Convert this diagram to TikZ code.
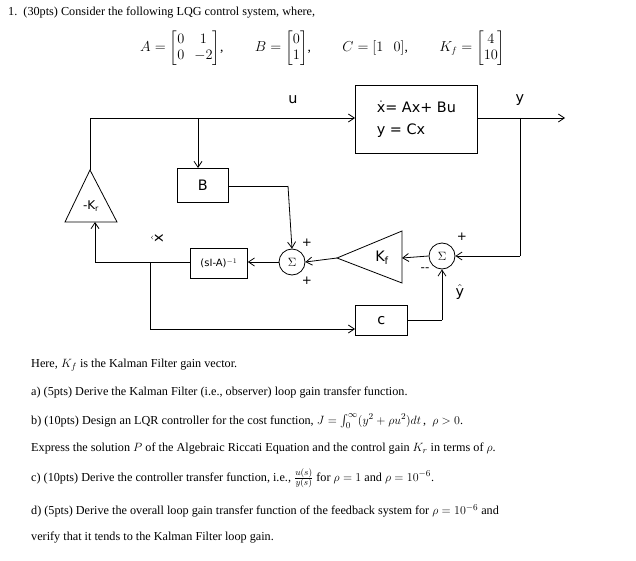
\documentclass[tikz,border=0pt]{standalone}
\usepackage{amsmath}
\usepackage{fontspec}
\setmainfont{Liberation Serif}
\newfontfamily\hand{DejaVu Sans}
\usetikzlibrary{arrows.meta}
\begin{document}
\begin{tikzpicture}[x=1pt,y=-1pt,
  blk/.style={draw,thick,minimum width=#1,inner sep=0pt,font=\hand\Large},
  sumc/.style={draw,thick,circle,minimum size=26pt,inner sep=0pt,font=\large},
  ln/.style={thick},
  ar/.style={thick,-{Straight Barb[length=6pt,width=8pt]}},
  txt/.style={anchor=west,inner sep=0pt,font=\fontsize{12.2}{14}\selectfont},
  hl/.style={font=\hand\Large}]
\useasboundingbox (0,0) rectangle (636,561);
\fill[white] (0,0) rectangle (636,561);
\node[txt] (t1) at (8,13) {1.\ \ (30pts) Consider the following LQG control system, where,};
\node[txt,font=\fontsize{13.5}{16}\selectfont] (t2) at (140,48) {$A=\begin{bmatrix}0&1\\0&-2\end{bmatrix}$,\hspace{28pt}
 $B=\begin{bmatrix}0\\1\end{bmatrix}$,\hspace{28pt}
 $C=[1\ \ \ 0]$,\hspace{28pt} $K_f=\begin{bmatrix}4\\10\end{bmatrix}$};
% diagram
\node[blk=122pt,minimum height=68pt,align=left,anchor=north west] (P) at (355,85) {$\dot{\text{x}}$= Ax+ Bu\\[4pt] y = Cx};
\node[blk=51pt,minimum height=34pt,anchor=north west] (B) at (177,168) {B};
\node[blk=57pt,minimum height=30pt,anchor=north west,font=\hand\normalsize] (SI) at (190,248) {(sI-A)$^{-1}$};
\node[blk=52pt,minimum height=30pt,anchor=north west] (C) at (355,305) {c};
\node[sumc] (S1) at (292,262) {$\Sigma$};
\node[sumc] (S2) at (442,256) {$\Sigma$};
% triangles
\coordinate (KFa) at (337,258);
\coordinate (KFb) at (402,258);
\draw[thick] (KFa) -- (402,231) -- (402,283) -- cycle;
\node[hl] (KF) at (382,258) {K\textsubscript{f}};
\coordinate (KRa) at (90,170);
\coordinate (KRb) at (95,222);
\draw[thick] (KRa) -- (117,222) -- (65,222) -- cycle;
\node[hl,font=\hand\large] (KR) at (91,206) {-K\textsubscript{r}};
\coordinate (tl) at (90,118);
\coordinate (br) at (198,118);
\coordinate (yb) at (520,118);
\coordinate (yend) at (565,118);
\coordinate (bc) at (288,186);
\coordinate (xl) at (95,262);
\coordinate (xb) at (150,262);
\coordinate (bl) at (150,329);
\coordinate (cr) at (442,320);
\draw[ln] (KRa) -- (tl) -- (br);
\draw[ar] (br) -- (P.west|-br);
\draw[ar] (br) -- (B.north-|br);
\draw[ar] (P.east|-yb) -- (yend);
\draw[ln] (yb) -- (520,256);
\draw[ar] (520,256) -- (S2.east);
\draw[ar] (S2.west) -- (KFb);
\draw[ar] (KFa) -- (S1.east);
\draw[ln] (B.east|-bc) -- (bc);
\draw[ar] (bc) -- (S1.north);
\draw[ar] (S1.west) -- (SI.east|-S1);
\draw[ln] (SI.west|-xl) -- (xl);
\draw[ar] (xl) -- (KRb);
\draw[ln] (xb) -- (bl);
\draw[ar] (bl) -- (C.west|-bl);
\draw[ln] (C.east|-cr) -- (cr);
\draw[ar] (cr) -- (S2.south);
\node[hl] (lu) at (293,100) {u};
\node[hl] (ly) at (520,100) {y};
\node[hl,rotate=90] (lx) at (157,238) {$\hat{\text{x}}$};
\node[hl] (lyh) at (460,292) {$\hat{\text{y}}$};
\node[hl,font=\hand\large] (p1) at (307,243) {+};
\node[hl,font=\hand\large] (p2) at (307,281) {+};
\node[hl,font=\hand\large] (p3) at (462,237) {+};
\node[hl,font=\hand\large] (m1) at (425,270) {--};
% text
\node[txt] (h1) at (31,365) {Here, $K_f$ is the Kalman Filter gain vector.};
\node[txt] (h2) at (31,393) {a) (5pts) Derive the Kalman Filter (i.e., observer) loop gain transfer function.};
\node[txt] (h3) at (31,421) {b) (10pts) Design an LQR controller for the cost function, $J=\int_0^\infty(y^2+\rho u^2)dt$\,,\ \ $\rho>0$.};
\node[txt] (h4) at (31,449) {Express the solution $P$ of the Algebraic Riccati Equation and the control gain $K_r$ in terms of $\rho$.};
\node[txt] (h5) at (31,478) {c) (10pts) Derive the controller transfer function, i.e., $\frac{u(s)}{y(s)}$ for $\rho=1$ and $\rho=10^{-6}$.};
\node[txt] (h6) at (31,511) {d) (5pts) Derive the overall loop gain transfer function of the feedback system for $\rho=10^{-6}$ and};
\node[txt] (h7) at (31,538) {verify that it tends to the Kalman Filter loop gain.};
\end{tikzpicture}
\end{document}
